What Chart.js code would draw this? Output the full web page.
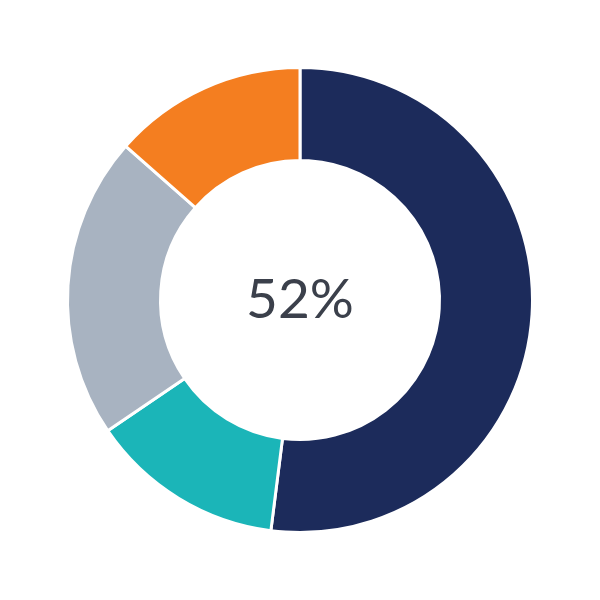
<!DOCTYPE html>
<html>
<head>
<meta charset="utf-8">
<script src="https://cdn.jsdelivr.net/npm/chart.js@4"></script>
<style>
  html, body { margin: 0; padding: 0; background: #fff; }
  #wrap { width: 600px; height: 600px; }
</style>
</head>
<body>
<div id="wrap"><canvas id="myChart"></canvas></div>
<script>
const labels = ['Navy', 'Teal', 'Gray', 'Orange'];
const values = [52, 13.5, 21, 13.5];
const colors = ['#1c2b5b', '#1bb5b8', '#a8b3c1', '#f47e20'];
const centerLabel = '52%';

const centerText = {
  id: 'centerText',
  afterDraw(chart) {
    const meta = chart.getDatasetMeta(0);
    const arc = meta.data[0];
    if (!arc) return;
    const c = chart.ctx;
    c.save();
    c.font = '400 55px Lato';
    c.fillStyle = '#3b404b';
    c.textAlign = 'center';
    c.textBaseline = 'middle';
    c.fillText(centerLabel, arc.x, arc.y);
    c.restore();
  }
};

const ctx = document.getElementById('myChart');

const chart = new Chart(ctx, {
  type: 'doughnut',
  data: {
    labels: labels,
    datasets: [{
      data: values,
      backgroundColor: colors,
      borderColor: '#ffffff',
      borderWidth: 3
    }]
  },
  options: {
    responsive: true,
    maintainAspectRatio: false,
    animation: false,
    cutout: '60%',
    layout: { padding: 66 },
    plugins: {
      legend: { display: false },
      tooltip: { enabled: false }
    }
  },
  plugins: [centerText]
});
</script>
</body>
</html>
